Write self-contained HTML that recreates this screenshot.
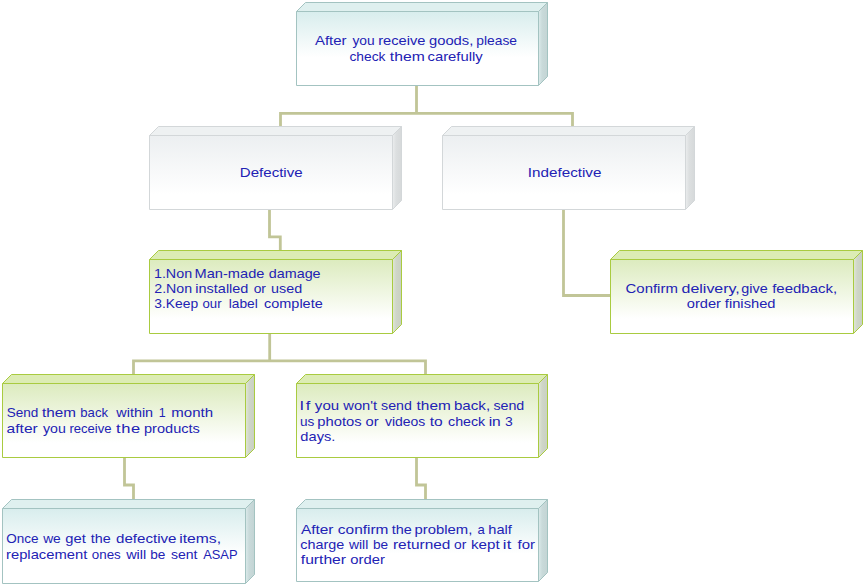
<!DOCTYPE html>
<html><head><meta charset="utf-8"><style>
html,body{margin:0;padding:0;background:#fff;width:864px;height:585px;overflow:hidden}
svg{display:block}
text{font-family:"Liberation Sans",sans-serif;font-size:12.7px;fill:#2222b4}
</style></head><body>
<svg width="864" height="585" viewBox="0 0 864 585">
<defs>
<linearGradient id="g_blue" x1="0" y1="0" x2="0" y2="1"><stop offset="0" stop-color="#d8eded"/><stop offset="0.62" stop-color="#ffffff"/></linearGradient>
<linearGradient id="s_blue" x1="0" y1="0" x2="1" y2="0"><stop offset="0" stop-color="#dcebeb"/><stop offset="0.4" stop-color="#c9dada"/><stop offset="1" stop-color="#c3d4d4"/></linearGradient>
<linearGradient id="g_gray" x1="0" y1="0" x2="0" y2="1"><stop offset="0" stop-color="#eceff1"/><stop offset="0.8" stop-color="#ffffff"/></linearGradient>
<linearGradient id="s_gray" x1="0" y1="0" x2="1" y2="0"><stop offset="0" stop-color="#ebedee"/><stop offset="0.4" stop-color="#dcdfe0"/><stop offset="1" stop-color="#d6d9da"/></linearGradient>
<linearGradient id="g_green" x1="0" y1="0" x2="0" y2="1"><stop offset="0" stop-color="#dcebbe"/><stop offset="0.8" stop-color="#ffffff"/></linearGradient>
<linearGradient id="s_green" x1="0" y1="0" x2="1" y2="0"><stop offset="0" stop-color="#e2e8d6"/><stop offset="0.4" stop-color="#cfd6c8"/><stop offset="1" stop-color="#c9d0c2"/></linearGradient>
</defs>
<path d="M416.5 85 V113.3 M280.5 113.3 H572.5 M280.5 112 V126 M572.5 112 V126 M269.5 209 V236.8 H280.3 V250 M563.5 209 V295.5 H610 M269.7 333 V360.8 M133.5 360.8 H425.5 M133.5 359.5 V374 M425.5 359.5 V374 M124.5 457 V485 H133.5 V499 M416.5 457 V485 H425.5 V499" fill="none" stroke="#c1c597" stroke-width="2.8"/>
<g stroke="#a3c3c1" stroke-width="1" stroke-linejoin="round">
<polygon points="296.5,11.5 305.5,2.5 547.5,2.5 538.5,11.5" fill="#dff0ef"/>
<polygon points="538.5,11.5 547.5,2.5 547.5,76.5 538.5,85.5" fill="url(#s_blue)"/>
<rect x="296.5" y="11.5" width="242" height="74" fill="url(#g_blue)"/>
</g>
<g stroke="#d3d7d9" stroke-width="1" stroke-linejoin="round">
<polygon points="149.5,135.5 158.5,126.5 401.5,126.5 392.5,135.5" fill="#eef1f2"/>
<polygon points="392.5,135.5 401.5,126.5 401.5,200.5 392.5,209.5" fill="url(#s_gray)"/>
<rect x="149.5" y="135.5" width="243" height="74" fill="url(#g_gray)"/>
</g>
<g stroke="#d3d7d9" stroke-width="1" stroke-linejoin="round">
<polygon points="442.5,135.5 451.5,126.5 694.5,126.5 685.5,135.5" fill="#eef1f2"/>
<polygon points="685.5,135.5 694.5,126.5 694.5,200.5 685.5,209.5" fill="url(#s_gray)"/>
<rect x="442.5" y="135.5" width="243" height="74" fill="url(#g_gray)"/>
</g>
<g stroke="#a9cb40" stroke-width="1" stroke-linejoin="round">
<polygon points="149.5,259.5 158.5,250.5 401.5,250.5 392.5,259.5" fill="#dcecb4"/>
<polygon points="392.5,259.5 401.5,250.5 401.5,324.5 392.5,333.5" fill="url(#s_green)"/>
<rect x="149.5" y="259.5" width="243" height="74" fill="url(#g_green)"/>
</g>
<g stroke="#a9cb40" stroke-width="1" stroke-linejoin="round">
<polygon points="610.5,259.5 619.5,250.5 862.5,250.5 853.5,259.5" fill="#dcecb4"/>
<polygon points="853.5,259.5 862.5,250.5 862.5,324.5 853.5,333.5" fill="url(#s_green)"/>
<rect x="610.5" y="259.5" width="243" height="74" fill="url(#g_green)"/>
</g>
<g stroke="#a9cb40" stroke-width="1" stroke-linejoin="round">
<polygon points="2.5,383.5 11.5,374.5 254.5,374.5 245.5,383.5" fill="#dcecb4"/>
<polygon points="245.5,383.5 254.5,374.5 254.5,448.5 245.5,457.5" fill="url(#s_green)"/>
<rect x="2.5" y="383.5" width="243" height="74" fill="url(#g_green)"/>
</g>
<g stroke="#a9cb40" stroke-width="1" stroke-linejoin="round">
<polygon points="296.5,383.5 305.5,374.5 547.5,374.5 538.5,383.5" fill="#dcecb4"/>
<polygon points="538.5,383.5 547.5,374.5 547.5,448.5 538.5,457.5" fill="url(#s_green)"/>
<rect x="296.5" y="383.5" width="242" height="74" fill="url(#g_green)"/>
</g>
<g stroke="#a3c3c1" stroke-width="1" stroke-linejoin="round">
<polygon points="2.5,508.5 11.5,499.5 254.5,499.5 245.5,508.5" fill="#dff0ef"/>
<polygon points="245.5,508.5 254.5,499.5 254.5,574.5 245.5,583.5" fill="url(#s_blue)"/>
<rect x="2.5" y="508.5" width="243" height="75" fill="url(#g_blue)"/>
</g>
<g stroke="#a3c3c1" stroke-width="1" stroke-linejoin="round">
<polygon points="296.5,508.5 305.5,499.5 547.5,499.5 538.5,508.5" fill="#dff0ef"/>
<polygon points="538.5,508.5 547.5,499.5 547.5,572.5 538.5,581.5" fill="url(#s_blue)"/>
<rect x="296.5" y="508.5" width="242" height="73" fill="url(#g_blue)"/>
</g>
<text x="314.95" y="45" textLength="31.65" lengthAdjust="spacingAndGlyphs">After</text>
<text x="352.45" y="45" textLength="22.23" lengthAdjust="spacingAndGlyphs">you</text>
<text x="378.23" y="45" textLength="47.27" lengthAdjust="spacingAndGlyphs">receive</text>
<text x="428.97" y="45" textLength="44.29" lengthAdjust="spacingAndGlyphs">goods,</text>
<text x="476.38" y="45" textLength="40.68" lengthAdjust="spacingAndGlyphs">please</text>
<text x="349.41" y="61" textLength="36.09" lengthAdjust="spacingAndGlyphs">check</text>
<text x="389.83" y="61" textLength="34.89" lengthAdjust="spacingAndGlyphs">them</text>
<text x="427.57" y="61" textLength="55.12" lengthAdjust="spacingAndGlyphs">carefully</text>
<text x="239.86" y="177" textLength="62.75" lengthAdjust="spacingAndGlyphs">Defective</text>
<text x="527.88" y="177" textLength="73.54" lengthAdjust="spacingAndGlyphs">Indefective</text>
<text x="153.94" y="278" textLength="38.17" lengthAdjust="spacingAndGlyphs">1.Non</text>
<text x="194.60" y="278" textLength="69.80" lengthAdjust="spacingAndGlyphs">Man-made</text>
<text x="268.79" y="278" textLength="51.80" lengthAdjust="spacingAndGlyphs">damage</text>
<text x="154.28" y="293" textLength="37.82" lengthAdjust="spacingAndGlyphs">2.Non</text>
<text x="195.34" y="293" textLength="53.08" lengthAdjust="spacingAndGlyphs">installed</text>
<text x="253.66" y="293" textLength="12.28" lengthAdjust="spacingAndGlyphs">or</text>
<text x="271.05" y="293" textLength="31.06" lengthAdjust="spacingAndGlyphs">used</text>
<text x="154.31" y="308" textLength="43.84" lengthAdjust="spacingAndGlyphs">3.Keep</text>
<text x="202.53" y="308" textLength="19.05" lengthAdjust="spacingAndGlyphs">our</text>
<text x="228.78" y="308" textLength="29.06" lengthAdjust="spacingAndGlyphs">label</text>
<text x="264.08" y="308" textLength="58.61" lengthAdjust="spacingAndGlyphs">complete</text>
<text x="625.54" y="293" textLength="52.32" lengthAdjust="spacingAndGlyphs">Confirm</text>
<text x="681.62" y="293" textLength="58.14" lengthAdjust="spacingAndGlyphs">delivery,</text>
<text x="741.28" y="293" textLength="26.40" lengthAdjust="spacingAndGlyphs">give</text>
<text x="772.23" y="293" textLength="64.85" lengthAdjust="spacingAndGlyphs">feedback,</text>
<text x="686.77" y="308" textLength="34.23" lengthAdjust="spacingAndGlyphs">order</text>
<text x="724.83" y="308" textLength="50.70" lengthAdjust="spacingAndGlyphs">finished</text>
<text x="6.72" y="417" textLength="31.65" lengthAdjust="spacingAndGlyphs">Send</text>
<text x="42.13" y="417" textLength="33.96" lengthAdjust="spacingAndGlyphs">them</text>
<text x="80.32" y="417" textLength="27.67" lengthAdjust="spacingAndGlyphs">back</text>
<text x="116.36" y="417" textLength="36.75" lengthAdjust="spacingAndGlyphs">within</text>
<text x="158.67" y="417" textLength="6.94" lengthAdjust="spacingAndGlyphs">1</text>
<text x="171.30" y="417" textLength="41.75" lengthAdjust="spacingAndGlyphs">month</text>
<text x="6.64" y="433" textLength="31.07" lengthAdjust="spacingAndGlyphs">after</text>
<text x="42.95" y="433" textLength="22.85" lengthAdjust="spacingAndGlyphs">you</text>
<text x="69.43" y="433" textLength="42.10" lengthAdjust="spacingAndGlyphs">receive</text>
<text transform="translate(116.12,433) scale(1.3,1)" x="0" y="0" letter-spacing="0.466">the</text>
<text x="144.03" y="433" textLength="55.83" lengthAdjust="spacingAndGlyphs">products</text>
<text transform="translate(299.52,410) scale(1.3,1)" x="0" y="0" letter-spacing="1.279">If</text>
<text x="314.85" y="410" textLength="24.31" lengthAdjust="spacingAndGlyphs">you</text>
<text x="343.37" y="410" textLength="33.82" lengthAdjust="spacingAndGlyphs">won&#39;t</text>
<text x="381.11" y="410" textLength="30.79" lengthAdjust="spacingAndGlyphs">send</text>
<text x="416.58" y="410" textLength="34.22" lengthAdjust="spacingAndGlyphs">them</text>
<text x="453.90" y="410" textLength="36.20" lengthAdjust="spacingAndGlyphs">back,</text>
<text x="493.41" y="410" textLength="30.89" lengthAdjust="spacingAndGlyphs">send</text>
<text x="300.09" y="426" textLength="14.34" lengthAdjust="spacingAndGlyphs">us</text>
<text x="317.32" y="426" textLength="44.35" lengthAdjust="spacingAndGlyphs">photos</text>
<text x="365.62" y="426" textLength="13.08" lengthAdjust="spacingAndGlyphs">or</text>
<text x="384.95" y="426" textLength="40.40" lengthAdjust="spacingAndGlyphs">videos</text>
<text x="429.73" y="426" textLength="12.99" lengthAdjust="spacingAndGlyphs">to</text>
<text x="448.09" y="426" textLength="37.10" lengthAdjust="spacingAndGlyphs">check</text>
<text x="488.67" y="426" textLength="12.12" lengthAdjust="spacingAndGlyphs">in</text>
<text x="505.11" y="426" textLength="7.75" lengthAdjust="spacingAndGlyphs">3</text>
<text x="300.37" y="441" textLength="34.98" lengthAdjust="spacingAndGlyphs">days.</text>
<text x="6.31" y="543" textLength="32.24" lengthAdjust="spacingAndGlyphs">Once</text>
<text x="43.16" y="543" textLength="17.60" lengthAdjust="spacingAndGlyphs">we</text>
<text x="65.37" y="543" textLength="20.51" lengthAdjust="spacingAndGlyphs">get</text>
<text x="90.84" y="543" textLength="19.95" lengthAdjust="spacingAndGlyphs">the</text>
<text x="116.06" y="543" textLength="60.46" lengthAdjust="spacingAndGlyphs">defective</text>
<text x="179.26" y="543" textLength="41.78" lengthAdjust="spacingAndGlyphs">items,</text>
<text x="6.02" y="559" textLength="81.26" lengthAdjust="spacingAndGlyphs">replacement</text>
<text x="91.82" y="559" textLength="29.00" lengthAdjust="spacingAndGlyphs">ones</text>
<text x="126.16" y="559" textLength="20.12" lengthAdjust="spacingAndGlyphs">will</text>
<text x="150.19" y="559" textLength="15.16" lengthAdjust="spacingAndGlyphs">be</text>
<text x="170.92" y="559" textLength="26.56" lengthAdjust="spacingAndGlyphs">sent</text>
<text x="203.15" y="559" textLength="34.38" lengthAdjust="spacingAndGlyphs">ASAP</text>
<text x="300.95" y="534" textLength="32.56" lengthAdjust="spacingAndGlyphs">After</text>
<text x="337.84" y="534" textLength="50.66" lengthAdjust="spacingAndGlyphs">confirm</text>
<text x="391.74" y="534" textLength="20.05" lengthAdjust="spacingAndGlyphs">the</text>
<text x="414.61" y="534" textLength="57.75" lengthAdjust="spacingAndGlyphs">problem,</text>
<text x="477.63" y="534" textLength="7.28" lengthAdjust="spacingAndGlyphs">a</text>
<text x="488.33" y="534" textLength="23.54" lengthAdjust="spacingAndGlyphs">half</text>
<text x="300.38" y="549" textLength="44.00" lengthAdjust="spacingAndGlyphs">charge</text>
<text x="348.96" y="549" textLength="19.29" lengthAdjust="spacingAndGlyphs">will</text>
<text x="372.99" y="549" textLength="15.16" lengthAdjust="spacingAndGlyphs">be</text>
<text x="392.98" y="549" textLength="57.40" lengthAdjust="spacingAndGlyphs">returned</text>
<text x="454.01" y="549" textLength="12.28" lengthAdjust="spacingAndGlyphs">or</text>
<text x="471.00" y="549" textLength="28.59" lengthAdjust="spacingAndGlyphs">kept</text>
<text transform="translate(502.81,549) scale(1.3,1)" x="0" y="0" letter-spacing="0.209">it</text>
<text x="517.63" y="549" textLength="17.47" lengthAdjust="spacingAndGlyphs">for</text>
<text x="300.83" y="564" textLength="45.18" lengthAdjust="spacingAndGlyphs">further</text>
<text x="350.37" y="564" textLength="34.53" lengthAdjust="spacingAndGlyphs">order</text>
</svg></body></html>
